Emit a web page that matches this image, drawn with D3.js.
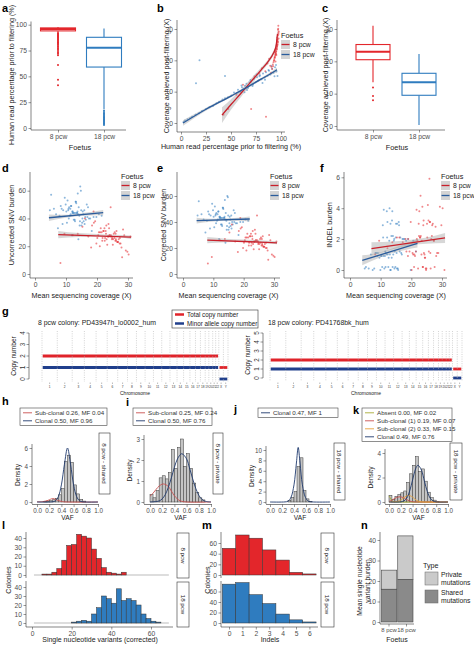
<!DOCTYPE html>
<html>
<head>
<meta charset="utf-8">
<script src="https://cdn.jsdelivr.net/npm/d3@7"></script>
<style>
  body { margin: 0; background: #fff; }
  svg text { font-family: "Liberation Sans", Arial, sans-serif; }
</style>
</head>
<body>
<script>
const groups = ["8 pcw", "18 pcw"];

// a - human read percentage prior to filtering
const readStats = [
  {lo: 92.6, q1: 94.0, med: 95.9, q3: 96.9, hi: 97.8},
  {lo: 18.5, q1: 59.0, med: 77.8, q3: 87.8, hi: 96.3}
];
const readOut8 = [92.0, 91.3, 90.6, 89.8, 89.1, 88.3, 87.6, 86.8, 85.9, 85.1, 84.2, 83.3, 82.5, 81.6, 80.6, 79.5, 78.4, 77.2, 75.9, 74.6, 73.2, 71.8, 70.5, 61.0, 46.8, 41.5];
const readOut18 = [17.0, 15.6, 14.3, 13.2, 12.1, 11.0, 10.1, 9.2, 8.3, 7.4, 6.5, 5.6, 4.7, 3.8, 3.0];

// c - coverage achieved post-filtering
const covStats = [
  {lo: 13.5, q1: 20.5, med: 23.0, q3: 25.2, hi: 31.0},
  {lo: 0.3, q1: 9.5, med: 13.5, q3: 16.3, hi: 22.3}
];
const covOut8 = [11.9, 9.3, 8.0];
const covOut18 = [];

// b - read percentage vs coverage
const b8x = [95.5, 96.2, 94.8, 97.0, 93.9, 96.8, 95.1, 97.3, 92.5, 96.0, 94.2, 97.5, 95.8, 93.2, 96.5, 91.8, 95.3, 97.1, 94.6, 96.9, 90.5, 95.9, 93.6, 97.4, 96.3, 89.2, 94.9, 96.7, 92.9, 95.6, 97.2, 88.1, 94.4, 96.1, 95.0, 93.4, 97.6, 91.2, 96.4, 94.0, 86.5, 95.4, 97.8, 92.1, 96.6, 84.3, 93.8, 95.7, 81.0, 96.0, 78.2, 94.5, 73.5, 90.0, 62.0, 55.4, 47.3, 42.5, 70.1, 85.0];
const b8y = [24.1, 27.3, 22.5, 29.8, 20.9, 26.0, 23.6, 31.0, 19.4, 25.2, 21.8, 28.4, 24.9, 20.1, 26.8, 18.7, 23.0, 27.9, 22.2, 25.6, 17.9, 24.5, 21.1, 28.9, 26.3, 18.3, 22.8, 25.0, 19.9, 23.8, 30.1, 20.5, 21.5, 24.3, 22.0, 20.6, 27.0, 17.2, 26.6, 23.2, 19.0, 21.7, 29.2, 18.1, 25.9, 16.5, 22.6, 24.7, 17.5, 23.5, 15.8, 19.6, 14.9, 16.0, 12.2, 9.0, 4.5, 2.6, 4.5, 2.0];
const b18x = [2.5, 4.0, 6.5, 9.0, 11.0, 14.5, 18.0, 21.0, 25.0, 28.5, 32.0, 35.5, 38.0, 41.5, 44.0, 47.0, 50.5, 53.0, 55.5, 57.0, 59.5, 61.0, 62.5, 64.0, 65.5, 67.0, 68.5, 70.0, 71.5, 73.0, 74.5, 76.0, 77.5, 79.0, 80.5, 82.0, 83.5, 85.0, 86.5, 88.0, 89.5, 91.0, 92.5, 94.0, 95.5, 96.5, 60.5, 66.0, 72.0, 78.5, 84.0, 90.5, 93.5, 95.0, 63.5, 69.5, 75.5, 81.5, 87.5, 18.5, 44.0, 15.0];
const b18y = [0.3, 0.8, 1.2, 1.5, 2.0, 2.6, 3.1, 3.8, 4.5, 5.0, 5.4, 6.3, 6.8, 7.5, 7.9, 8.2, 8.8, 9.7, 9.5, 10.6, 10.0, 11.4, 10.8, 11.9, 12.5, 11.2, 12.9, 13.2, 11.8, 14.1, 13.0, 14.6, 13.6, 15.2, 14.0, 15.8, 14.5, 16.2, 15.1, 16.7, 15.5, 17.3, 16.0, 17.8, 16.4, 15.0, 12.0, 10.5, 12.3, 14.9, 13.8, 18.2, 14.9, 18.5, 9.8, 13.7, 15.5, 12.8, 16.9, 20.0, 15.0, 12.7];
const bFit8 = [[41, 2.5], [50, 5.9], [60, 9.5], [70, 13.2], [80, 16.9], [88, 20.0], [92, 22.0], [95, 24.5], [96.5, 28.5]];
const bBand8 = [[41, 0.0, 5.0], [50, 4.2, 7.6], [60, 8.3, 10.7], [70, 12.2, 14.2], [80, 16.1, 17.7], [88, 19.3, 20.7], [92, 21.3, 22.7], [95, 23.5, 25.5], [96.5, 27.0, 30.0]];
const bFit18 = [[2, 0.0], [25, 4.4], [50, 8.6], [65, 11.2], [80, 14.0], [90, 15.8], [96, 17.0]];
const bBand18 = [[2, -0.9, 0.9], [25, 3.9, 4.9], [50, 8.2, 9.0], [65, 10.8, 11.6], [80, 13.6, 14.4], [90, 15.3, 16.3], [96, 16.3, 17.7]];

// d, e, f - per colony mean coverage, SNV and indel burden
const cov8 = [24.1, 22.5, 26.3, 19.8, 23.4, 27.9, 21.2, 25.6, 18.4, 24.8, 29.3, 22.9, 20.6, 26.8, 23.7, 17.2, 25.1, 28.4, 21.8, 24.5, 30.2, 19.4, 23.1, 26.0, 22.2, 27.3, 16.1, 24.3, 25.9, 20.9, 23.9, 28.8, 22.6, 18.9, 26.5, 21.5, 24.7, 27.0, 15.3, 23.3, 25.4, 29.8, 20.1, 22.0, 26.2, 24.0, 19.0, 27.6, 23.6, 21.0, 25.2, 13.8, 28.1, 22.4, 24.9, 26.7, 20.4, 23.0, 30.8, 18.1, 25.7, 21.7, 24.4, 27.4, 12.2, 22.8, 26.1, 9.5, 23.8, 8.2];
const cov18 = [12.3, 14.5, 10.8, 16.2, 13.1, 8.9, 15.4, 11.7, 17.8, 13.9, 9.6, 12.8, 15.9, 11.2, 14.1, 7.4, 13.5, 16.7, 10.3, 12.0, 18.9, 14.8, 6.1, 11.5, 15.0, 13.3, 9.1, 16.4, 12.6, 14.3, 5.2, 10.9, 17.1, 13.7, 11.9, 15.6, 8.3, 12.9, 14.9, 19.8, 10.5, 13.0, 16.0, 11.4, 7.9, 14.6, 12.2, 17.4, 9.9, 15.2, 13.6, 11.0, 20.6, 12.5, 4.8, 14.0, 16.9, 10.1, 13.2, 15.7, 8.6, 12.1, 21.5, 14.4, 11.6, 6.8, 13.8, 15.3, 10.7, 18.3];
const snvRaw8 = [28, 24, 31, 22, 27, 19, 33, 26, 35, 25, 17, 29, 30, 23, 36, 27, 21, 32, 26, 28, 14, 38, 25, 29, 31, 22, 40, 27, 24, 20, 33, 28, 26, 45, 23, 30, 27, 25, 34, 21, 29, 16, 26, 31, 24, 28, 37, 22, 27, 30, 25, 29, 12, 33, 26, 23, 28, 35, 27, 19, 30, 24, 48, 26, 28, 31, 25, 29, 27, 8];
const snvRaw18 = [44, 38, 47, 41, 52, 36, 45, 49, 40, 43, 55, 39, 46, 42, 48, 33, 44, 50, 37, 45, 41, 60, 47, 43, 35, 51, 46, 39, 44, 42, 57, 40, 48, 45, 28, 43, 49, 38, 46, 41, 53, 44, 36, 47, 42, 63, 45, 40, 50, 37, 44, 48, 43, 39, 46, 25, 41, 45, 52, 38, 47, 44, 42, 35, 49, 43, 58, 40, 46, 31];
const snvCor8 = [26, 22, 29, 20, 25, 18, 31, 24, 33, 23, 15, 27, 28, 21, 34, 25, 19, 30, 24, 26, 13, 36, 23, 27, 29, 20, 38, 25, 22, 18, 31, 26, 24, 43, 21, 28, 25, 23, 32, 19, 27, 14, 24, 29, 22, 26, 35, 20, 25, 28, 23, 27, 11, 31, 24, 21, 26, 33, 25, 17, 28, 22, 45, 24, 26, 29, 23, 13, 25, 8];
const snvCor18 = [43, 37, 46, 40, 51, 35, 44, 48, 39, 42, 54, 38, 45, 41, 47, 32, 43, 49, 36, 44, 40, 59, 46, 42, 34, 50, 45, 38, 43, 41, 56, 39, 47, 44, 27, 42, 48, 37, 45, 40, 52, 43, 35, 46, 41, 60, 44, 39, 49, 36, 43, 47, 42, 38, 45, 24, 40, 44, 51, 37, 46, 43, 41, 34, 48, 42, 57, 39, 45, 30];
const indel8 = [1.1, 2.2, 0.1, 3.1, 1.9, 2.8, 0.9, 3.2, 1.2, 0.0, 4.1, 2.1, 1.0, 2.9, 0.2, 1.8, 3.0, 1.1, 2.0, 0.8, 4.0, 1.2, 2.2, 3.1, 0.1, 1.9, 2.1, 1.0, 5.9, 0.2, 2.9, 1.1, 3.8, 0.9, 2.0, 1.2, 0.1, 3.0, 2.1, 1.0, 4.2, 2.9, 0.0, 1.9, 1.1, 3.2, 2.0, 0.2, 4.1, 1.0, 2.1, 1.8, 0.9, 3.0, 0.1, 2.2, 1.1, 4.8, 0.0, 2.0, 1.2, 3.9, 0.8, 1.9, 1.4, 2.1, 3.1, 1.9, 0.2, 1.0];
const indel18 = [1.0, 0.1, 2.1, 1.2, 0.0, 0.9, 3.0, 1.1, 2.0, 0.2, 0.8, 1.9, 3.1, 0.1, 1.0, 0.0, 2.2, 1.1, 0.9, 3.8, 2.0, 0.2, 0.1, 1.2, 3.0, 0.0, 1.1, 2.1, 0.8, 1.9, 0.2, 0.9, 2.0, 3.2, 1.0, 0.1, 1.1, 4.0, 2.1, 0.0, 0.2, 1.0, 2.9, 0.9, 0.1, 1.2, 3.1, 2.0, 0.0, 1.1, 0.8, 3.9, 1.9, 0.2, 0.1, 2.2, 1.0, 0.9, 3.0, 0.0, 1.1, 2.1, 1.2, 2.0, 0.2, 1.0, 3.8, 0.1, 2.9, 1.9];
const dFit8 = [[7.5, 28.4], [31, 26.5]], dBand8 = [[7.5, 25.8, 31.0], [14, 26.6, 29.5], [20, 27.0, 28.8], [25, 26.8, 28.2], [31, 25.3, 27.8]];
const dFit18 = [[4.5, 40.5], [22, 44.2]], dBand18 = [[4.5, 38.2, 42.8], [9, 40.2, 42.6], [13, 41.5, 43.3], [18, 42.2, 44.6], [22, 42.3, 46.1]];
const eFit8 = [[8, 26], [31, 24]], eBand8 = [[8, 23.6, 28.4], [14, 24.4, 27.2], [20, 24.7, 26.5], [25, 24.3, 25.9], [31, 22.8, 25.2]];
const eFit18 = [[4.5, 41], [22, 42.3]], eBand18 = [[4.5, 38.8, 43.2], [9, 40.1, 42.5], [13, 40.9, 42.7], [18, 41.0, 43.2], [22, 40.4, 44.2]];
const fFit8 = [[7, 1.38], [31, 2.08]], fBand8 = [[7, 0.95, 1.8], [14, 1.35, 1.85], [20, 1.6, 1.95], [25, 1.7, 2.1], [31, 1.75, 2.4]];
const fFit18 = [[4, 0.62], [22, 1.72]], fBand18 = [[4, 0.3, 0.95], [9, 0.75, 1.1], [13, 1.05, 1.35], [18, 1.3, 1.7], [22, 1.45, 2.0]];

// g - copy number
const chroms = ["1","2","3","4","5","6","7","8","9","10","11","12","13","14","15","16","17","18","19","20","21","22","X","Y"];
const chromLen = [249, 243, 198, 191, 181, 171, 159, 146, 141, 136, 135, 134, 115, 107, 103, 90, 81, 78, 59, 63, 48, 51, 75, 75];
const cnSegs8 = [{from: "1", to: "22", total: 2, minor: 1}, {from: "X", to: "Y", total: 1, minor: 0}];
const cnSegs18 = [{from: "1", to: "22", total: 2, minor: 1}, {from: "X", to: "Y", total: 1, minor: 0}];

// h-k - VAF densities (bins of 0.05 from 0)
const vafBinWidth = 0.05;
const hBars = [0, 0, 0.05, 0.1, 0.15, 0.25, 0.4, 0.8, 1.5, 4.5, 5.2, 4.4, 1.9, 0.9, 0.3, 0.1, 0, 0, 0, 0];
const iBars = [0.35, 0.2, 0.55, 1.15, 1.25, 1.1, 1.4, 2.5, 1.6, 2.6, 3.0, 1.7, 2.3, 1.6, 0.9, 0.45, 0.2, 0.1, 0, 0];
const jBars = [0, 0, 0, 0, 0, 0, 0.3, 0.9, 2.0, 6.8, 8.5, 2.2, 0.6, 0.1, 0, 0, 0, 0, 0, 0];
const kBars = [0.55, 0.2, 0.45, 0.6, 0.75, 0.9, 1.6, 2.3, 3.0, 3.7, 2.5, 2.7, 1.7, 0.8, 0.35, 0.15, 0.05, 0, 0, 0];
const hSub = [[0, 0.02], [0.1, 0.05], [0.18, 0.18], [0.26, 0.38], [0.34, 0.18], [0.42, 0.04], [0.5, 0], [1, 0]];
const hClon = [[0, 0], [0.25, 0.02], [0.3, 0.12], [0.35, 0.6], [0.4, 1.9], [0.45, 4.2], [0.5, 6.0], [0.55, 4.2], [0.6, 1.9], [0.65, 0.6], [0.7, 0.12], [0.75, 0.02], [1, 0]];
const iSub = [[0, 0.28], [0.05, 0.42], [0.1, 0.6], [0.15, 0.76], [0.22, 0.86], [0.3, 0.74], [0.35, 0.52], [0.4, 0.3], [0.45, 0.14], [0.5, 0.05], [0.6, 0], [1, 0]];
const iClon = [[0, 0], [0.15, 0.05], [0.2, 0.15], [0.25, 0.35], [0.3, 0.7], [0.35, 1.15], [0.4, 1.65], [0.45, 2.05], [0.52, 2.3], [0.6, 2.05], [0.65, 1.6], [0.7, 1.1], [0.75, 0.65], [0.8, 0.32], [0.85, 0.13], [0.9, 0.04], [1, 0]];
const jClon = [[0, 0], [0.25, 0.02], [0.3, 0.15], [0.35, 0.9], [0.4, 3.3], [0.44, 7.5], [0.47, 10.5], [0.5, 7.5], [0.54, 3.3], [0.59, 0.9], [0.64, 0.15], [0.7, 0.02], [1, 0]];
const kAbs = [[0, 0.5], [0.02, 0.35], [0.05, 0.1], [0.08, 0.02], [0.12, 0], [1, 0]];
const kSub1 = [[0, 0.05], [0.05, 0.15], [0.1, 0.3], [0.15, 0.4], [0.19, 0.42], [0.25, 0.35], [0.3, 0.2], [0.35, 0.08], [0.42, 0.01], [0.5, 0], [1, 0]];
const kSub2 = [[0, 0], [0.1, 0.01], [0.18, 0.1], [0.25, 0.35], [0.33, 0.55], [0.4, 0.4], [0.47, 0.12], [0.55, 0.02], [0.6, 0], [1, 0]];
const kClon = [[0, 0], [0.2, 0.01], [0.25, 0.08], [0.3, 0.3], [0.35, 0.9], [0.4, 1.8], [0.45, 2.7], [0.49, 3.0], [0.55, 2.6], [0.6, 1.7], [0.65, 0.85], [0.7, 0.3], [0.75, 0.08], [0.8, 0.01], [1, 0]];

// l - SNV histogram (colonies per bin)
const snvBinWidth = 2.5, snvBinStart = 5;
const snvHist8 = [1, 1, 3, 7, 16, 32, 33, 44, 42, 40, 28, 18, 8, 3, 2, 1, 3];
const snvHist18 = [0, 0, 0, 0, 0, 0, 1, 2, 3, 2, 10, 17, 30, 27, 22, 38, 25, 27, 25, 20, 10, 5, 2, 1];

// m - indel histogram
const indelVals = [0, 1, 2, 3, 4, 5, 6];
const indelHist8 = [50, 75, 69, 47, 28, 5, 2];
const indelHist18 = [74, 77, 54, 37, 17, 6, 2];

// n - mean SNV burden
const sharedMean = [16.0, 20.8];
const privateMean = [9.3, 21.2];

// ---------------------------------------------------------------
const svg = d3.select("body").append("svg").attr("width", 474).attr("height", 645);
const RED = "#e3262b", BLUE = "#2f7cbf";
const RED_LINE = "#c8202b", BLUE_LINE = "#2a5c9c";
const NAVY = "#1f3a6e";

function T(t, x, y, o = {}) {
  const e = svg.append("text").attr("x", x).attr("y", y).text(t)
    .attr("font-size", o.size || 7).attr("fill", o.fill || "#222")
    .attr("text-anchor", o.anchor || "start");
  if (o.bold) e.attr("font-weight", "bold");
  if (o.rot) e.attr("transform", `rotate(${o.rot},${x},${y})`);
  return e;
}
function styleAxis(g, size) {
  g.select(".domain").remove();
  g.selectAll(".tick line").attr("stroke", "#333").attr("stroke-width", 0.5);
  g.selectAll(".tick text").attr("font-size", size || 6.7).attr("fill", "#4d4d4d");
}
function axisL(x, scale, ticks, yA, yB, fmt, size) {
  const g = svg.append("g").attr("transform", `translate(${x},0)`)
    .call(d3.axisLeft(scale).tickValues(ticks).tickSize(2.5).tickPadding(1.5).tickFormat(fmt || String));
  styleAxis(g, size);
  g.append("line").attr("y1", yA).attr("y2", yB).attr("stroke", "#333").attr("stroke-width", 0.6);
  return g;
}
function axisB(y, scale, ticks, xA, xB, fmt, size) {
  const g = svg.append("g").attr("transform", `translate(0,${y})`)
    .call(d3.axisBottom(scale).tickValues(ticks).tickSize(2.5).tickPadding(1.5).tickFormat(fmt || String));
  styleAxis(g, size);
  g.append("line").attr("x1", xA).attr("x2", xB).attr("stroke", "#333").attr("stroke-width", 0.6);
  return g;
}
function panelLabel(t, x, y) { T(t, x, y, {size: 11, bold: true, fill: "#000"}); }

function boxes(sx, sy, stats, outs, w) {
  stats.forEach((s, i) => {
    const c = i ? BLUE : RED, cx = sx(groups[i]);
    const g = svg.append("g").attr("stroke", c).attr("stroke-width", 1.1);
    g.append("line").attr("x1", cx).attr("x2", cx).attr("y1", sy(s.hi)).attr("y2", sy(s.q3));
    g.append("line").attr("x1", cx).attr("x2", cx).attr("y1", sy(s.q1)).attr("y2", sy(s.lo));
    g.append("rect").attr("x", cx - w / 2).attr("width", w).attr("y", sy(s.q3))
      .attr("height", sy(s.q1) - sy(s.q3)).attr("fill", "#fff");
    g.append("line").attr("x1", cx - w / 2).attr("x2", cx + w / 2).attr("y1", sy(s.med)).attr("y2", sy(s.med)).attr("stroke-width", 2);
    svg.append("g").selectAll("circle").data(outs[i]).join("circle")
      .attr("cx", cx).attr("cy", d => sy(d)).attr("r", 1).attr("fill", c);
  });
}
function dots(xs, ys, sx, sy, color) {
  svg.append("g").selectAll("circle").data(d3.zip(xs, ys)).join("circle")
    .attr("cx", d => sx(d[0])).attr("cy", d => sy(d[1])).attr("r", 1)
    .attr("fill", color).attr("fill-opacity", 0.55);
}
function ribbon(band, sx, sy) {
  svg.append("path").datum(band)
    .attr("d", d3.area().x(d => sx(d[0])).y0(d => sy(d[1])).y1(d => sy(d[2])).curve(d3.curveMonotoneX))
    .attr("fill", "#9a9a9a").attr("fill-opacity", 0.4);
}
function fitLine(fit, sx, sy, color) {
  svg.append("path").datum(fit)
    .attr("d", d3.line().x(d => sx(d[0])).y(d => sy(d[1])).curve(d3.curveMonotoneX))
    .attr("fill", "none").attr("stroke", color).attr("stroke-width", 1.3);
}
function smoothLegend(x, y) {
  T("Foetus", x, y + 2.5, {size: 7.3});
  groups.forEach((g, i) => {
    const cy = y + 9.5 + i * 10;
    svg.append("rect").attr("x", x).attr("y", cy - 4.5).attr("width", 9).attr("height", 9).attr("fill", "#d4d4d4");
    svg.append("line").attr("x1", x + 0.5).attr("x2", x + 8.5).attr("y1", cy).attr("y2", cy)
      .attr("stroke", i ? BLUE_LINE : RED_LINE).attr("stroke-width", 1.3);
    T(g, x + 12, cy + 2.4, {size: 6.8});
  });
}

// ---- a ----
panelLabel("a", 2, 12);
{
  const sy = d3.scaleLinear().domain([0, 100]).range([128, 24.7]);
  const sx = d3.scalePoint().domain(groups).range([58, 104]);
  axisL(31, sy, [0, 25, 50, 75, 100], 21.5, 130);
  axisB(130, sx, groups, 31, 126);
  boxes(sx, sy, readStats, [readOut8, readOut18], 35);
  T("Human read percentage prior to filtering (%)", 14, 75, {anchor: "middle", rot: -90, size: 7.2});
  T("Foetus", 80, 150, {anchor: "middle", size: 7.3});
}
// ---- b ----
panelLabel("b", 157, 12);
{
  const sx = d3.scaleLinear().domain([0, 100]).range([181, 281]);
  const sy = d3.scaleLinear().domain([0, 30]).range([123, 29]);
  axisL(177, sy, [0, 10, 20, 30], 20, 132);
  axisB(132, sx, [0, 25, 50, 75, 100], 177, 285);
  dots(b18x, b18y, sx, sy, BLUE);
  dots(b8x, b8y, sx, sy, RED);
  ribbon(bBand8, sx, sy); ribbon(bBand18, sx, sy);
  fitLine(bFit8, sx, sy, RED_LINE); fitLine(bFit18, sx, sy, BLUE_LINE);
  smoothLegend(281, 35);
  T("Coverage achieved post-filtering (X)", 169, 76, {anchor: "middle", rot: -90, size: 7.2});
  T("Human read percentage prior to filtering (%)", 231, 149, {anchor: "middle", size: 7.2});
}
// ---- c ----
panelLabel("c", 322, 12);
{
  const sy = d3.scaleLinear().domain([0, 30]).range([126, 29]);
  const sx = d3.scalePoint().domain(groups).range([373, 419]);
  axisL(337, sy, [0, 10, 20, 30], 20, 130);
  axisB(130, sx, groups, 337, 445);
  boxes(sx, sy, covStats, [covOut8, covOut18], 34);
  T("Coverage achieved post-filtering (X)", 328, 75, {anchor: "middle", rot: -90, size: 7.2});
  T("Foetus", 397, 150, {anchor: "middle", size: 7.3});
}
// ---- d, e, f ----
function burdenPanel(o) {
  const sx = d3.scaleLinear().domain([0, 30]).range(o.xr);
  const sy = d3.scaleLinear().domain([0, o.ymax]).range(o.yr);
  axisL(o.ax, sy, o.ticks, 172, 278);
  axisB(278, sx, [0, 10, 20, 30], o.ax, o.ax + 103);
  dots(cov18, o.v18, sx, sy, BLUE);
  dots(cov8, o.v8, sx, sy, RED);
  ribbon(o.band8, sx, sy); ribbon(o.band18, sx, sy);
  fitLine(o.fit8, sx, sy, RED_LINE); fitLine(o.fit18, sx, sy, BLUE_LINE);
  smoothLegend(o.leg, 176);
  T(o.ylab, o.ylx, 225, {anchor: "middle", rot: -90, size: 7.2});
  T("Mean sequencing coverage (X)", (o.xr[0] + o.xr[1]) / 2, 298, {anchor: "middle", size: 7.2});
}
panelLabel("d", 2, 172);
burdenPanel({xr: [35, 128], yr: [274, 190.7], ymax: 60, ax: 30, ticks: [0, 20, 40, 60], v8: snvRaw8, v18: snvRaw18,
  fit8: dFit8, band8: dBand8, fit18: dFit18, band18: dBand18, leg: 121, ylab: "Uncorrected SNV burden", ylx: 14});
panelLabel("e", 157, 172);
burdenPanel({xr: [183, 274], yr: [274, 196], ymax: 60, ax: 177, ticks: [0, 20, 40, 60], v8: snvCor8, v18: snvCor18,
  fit8: eFit8, band8: eBand8, fit18: eFit18, band18: eBand18, leg: 270, ylab: "Corrected SNV burden", ylx: 166});
panelLabel("f", 320, 172);
burdenPanel({xr: [350, 442], yr: [270, 177.3], ymax: 6, ax: 344, ticks: [0, 2, 4, 6], v8: indel8, v18: indel18,
  fit8: fFit8, band8: fBand8, fit18: fFit18, band18: fBand18, leg: 441, ylab: "INDEL burden", ylx: 332});

// ---- g ----
panelLabel("g", 2, 315);
function cnPanel(o) {
  const starts = [0].concat(Array.from(d3.cumsum(chromLen)));
  const sx = d3.scaleLinear().domain([0, starts[starts.length - 1]]).range([o.x0, o.x1]);
  const sy = d3.scaleLinear().domain([0, o.max]).range([o.y0, o.yTop]);
  o.segs.forEach(s => {
    const a = sx(starts[chroms.indexOf(s.from)]) + 0.7, b = sx(starts[chroms.indexOf(s.to) + 1]) - 0.7;
    svg.append("line").attr("x1", a).attr("x2", b).attr("y1", sy(s.total)).attr("y2", sy(s.total))
      .attr("stroke", "#e0232a").attr("stroke-width", 2.8);
    svg.append("line").attr("x1", a).attr("x2", b).attr("y1", sy(s.minor)).attr("y2", sy(s.minor))
      .attr("stroke", "#203f8c").attr("stroke-width", 2.8);
  });
  svg.append("g").selectAll("line").data(starts).join("line")
    .attr("x1", d => sx(d)).attr("x2", d => sx(d)).attr("y1", sy(o.max) - 2).attr("y2", o.y0 + 3)
    .attr("stroke", "#b5b5b5").attr("stroke-width", 0.6).attr("stroke-dasharray", "1,1.3");
  const ticks = d3.range(0, o.max + 1);
  svg.append("line").attr("x1", o.ax).attr("x2", o.ax).attr("y1", sy(0)).attr("y2", sy(o.max)).attr("stroke", "#333").attr("stroke-width", 0.6);
  ticks.forEach(t => {
    svg.append("line").attr("x1", o.ax - 2.5).attr("x2", o.ax).attr("y1", sy(t)).attr("y2", sy(t)).attr("stroke", "#333").attr("stroke-width", 0.5);
    T(String(t), o.ax - 4.5, sy(t), {anchor: "middle", rot: -90, size: 6.3, fill: "#333"});
  });
  chroms.forEach((c, i) => {
    const cx = sx((starts[i] + starts[i + 1]) / 2);
    svg.append("line").attr("x1", cx).attr("x2", cx).attr("y1", 382.5).attr("y2", 384).attr("stroke", "#555").attr("stroke-width", 0.4);
    T(c, cx, 388, {anchor: "middle", size: 3.2, fill: "#333"});
  });
  T(o.title, o.tx, 325, {size: 6.9});
  T("Copy number", o.ax - 13, o.y0 - 23, {anchor: "middle", rot: -90, size: 6.6});
  T("Chromosome", (o.x0 + o.x1) / 2, 395, {anchor: "middle", size: 5});
}
cnPanel({x0: 42, x1: 228, y0: 379, yTop: 333, max: 4, segs: cnSegs8, ax: 29, tx: 38, title: "8 pcw colony: PD43947h_lo0002_hum"});
cnPanel({x0: 270, x1: 462, y0: 378, yTop: 333, max: 5, segs: cnSegs18, ax: 263, tx: 268, title: "18 pcw colony: PD41768bk_hum"});
svg.append("rect").attr("x", 172).attr("y", 310).attr("width", 86).attr("height", 18).attr("fill", "#fff").attr("stroke", "#333").attr("stroke-width", 0.6);
[["Total copy number", "#e0232a"], ["Minor allele copy number", "#203f8c"]].forEach((d, i) => {
  const cy = 314.5 + i * 9;
  svg.append("line").attr("x1", 175).attr("x2", 184).attr("y1", cy).attr("y2", cy).attr("stroke", d[1]).attr("stroke-width", 2.5);
  T(d[0], 187, cy + 2.3, {size: 6.3});
});

// ---- h-k ----
function lineLegend(x, y, w, items) {
  svg.append("rect").attr("x", x).attr("y", y).attr("width", w).attr("height", items.length * 8 + 1.5)
    .attr("fill", "#fff").attr("stroke", "#444").attr("stroke-width", 0.6);
  items.forEach((it, i) => {
    const cy = y + 4.8 + i * 8;
    svg.append("line").attr("x1", x + 3).attr("x2", x + 12).attr("y1", cy).attr("y2", cy).attr("stroke", it[1]).attr("stroke-width", 0.9);
    T(it[0], x + 15, cy + 2.2, {size: 6.2, fill: "#333"});
  });
}
function strip(x, y, w, h, label) {
  svg.append("rect").attr("x", x).attr("y", y).attr("width", w).attr("height", h)
    .attr("fill", "#fff").attr("stroke", "#333").attr("stroke-width", 0.6);
  T(label, x + w / 2, y + h / 2, {anchor: "middle", rot: 90, size: 6.2}).attr("dy", "0.35em");
}
function densPanel(o) {
  const sx = d3.scaleLinear().domain([0, 1]).range([o.x0, o.x1]);
  const sy = d3.scaleLinear().domain([0, o.ymax]).range([o.y0, o.yTop]);
  svg.append("g").selectAll("rect").data(o.bars).join("rect")
    .attr("x", (d, i) => sx(i * vafBinWidth)).attr("width", sx(vafBinWidth) - sx(0))
    .attr("y", d => sy(d)).attr("height", d => sy(0) - sy(d))
    .attr("fill", "#c4c4c4").attr("stroke", "#3a3a3a").attr("stroke-width", 0.5);
  o.curves.forEach(c => svg.append("path").datum(c[0])
    .attr("d", d3.line().x(d => sx(d[0])).y(d => sy(d[1])).curve(d3.curveCatmullRom))
    .attr("fill", "none").attr("stroke", c[1]).attr("stroke-width", 0.9));
  axisL(o.ax, sy, o.ticks, o.yTop - 4, o.y0 + 2, String, 6.3);
  axisB(504.5, sx, [0, 0.2, 0.4, 0.6, 0.8, 1], o.ax, o.x1 + 1, d3.format(".1f"), 6.3);
  T("Density", o.ax - 12, (o.y0 + o.yTop) / 2, {anchor: "middle", rot: -90, size: 6.6});
  T("VAF", (o.x0 + o.x1) / 2, 519.5, {anchor: "middle", size: 6.6});
  strip(o.sx, o.sy, o.sw, o.sh, o.strip);
  lineLegend(o.lx, 408, o.lw, o.legend);
}
const SUBC = "#c9504f", ORANGE = "#e8a13a", OLIVE = "#a9ad34";
panelLabel("h", 2, 405);
densPanel({x0: 37, x1: 98, y0: 502, yTop: 448, ymax: 6, ticks: [0, 2, 4, 6], ax: 32, bars: hBars,
  curves: [[hSub, SUBC], [hClon, NAVY]], sx: 99, sy: 433, sw: 11, sh: 61, strip: "8 pcw - shared",
  lx: 20, lw: 87, legend: [["Sub-clonal 0.26, MF 0.04", SUBC], ["Clonal 0.50, MF 0.96", NAVY]]});
panelLabel("i", 126, 406);
densPanel({x0: 150, x1: 211, y0: 502, yTop: 439, ymax: 3, ticks: [0, 1, 2, 3], ax: 144, bars: iBars,
  curves: [[iSub, SUBC], [iClon, NAVY]], sx: 213, sy: 433, sw: 10, sh: 61, strip: "8 pcw - private",
  lx: 133, lw: 79, legend: [["Sub-clonal 0.25, MF 0.24", SUBC], ["Clonal 0.50, MF 0.76", NAVY]]});
panelLabel("j", 234, 413);
densPanel({x0: 270, x1: 330, y0: 502, yTop: 450, ymax: 10, ticks: [0, 2, 4, 6, 8, 10], ax: 266, bars: jBars,
  curves: [[jClon, NAVY]], sx: 334, sy: 443, sw: 11, sh: 57, strip: "18 pcw - shared",
  lx: 258, lw: 80, legend: [["Clonal 0.47, MF 1", NAVY]]});
panelLabel("k", 353, 414);
densPanel({x0: 389, x1: 448, y0: 502, yTop: 453, ymax: 4, ticks: [0, 2, 4], ax: 385, bars: kBars,
  curves: [[kAbs, OLIVE], [kSub1, SUBC], [kSub2, ORANGE], [kClon, NAVY]], sx: 450, sy: 443, sw: 12, sh: 57, strip: "18 pcw - private",
  lx: 362, lw: 90, legend: [["Absent 0.00, MF 0.02", OLIVE], ["Sub-clonal (1) 0.19, MF 0.07", SUBC], ["Sub-clonal (2) 0.33, MF 0.15", ORANGE], ["Clonal 0.49, MF 0.76", NAVY]]});

// ---- l ----
panelLabel("l", 2, 529);
{
  const sx = d3.scaleLinear().domain([0, 60]).range([32, 151]);
  const facets = [
    {counts: snvHist8, y0: 575, y40: 538, top: 532, bot: 578, col: RED, lab: "8 pcw"},
    {counts: snvHist18, y0: 623, y40: 587, top: 581, bot: 627, col: BLUE, lab: "18 pcw"}
  ];
  facets.forEach(f => {
    const sy = d3.scaleLinear().domain([0, 40]).range([f.y0, f.y40]);
    svg.append("line").attr("x1", sx(1)).attr("x2", sx(69)).attr("y1", f.y0).attr("y2", f.y0).attr("stroke", "#aaa").attr("stroke-width", 0.8);
    svg.append("g").selectAll("rect").data(f.counts).join("rect")
      .attr("x", (d, i) => sx(snvBinStart + i * snvBinWidth)).attr("width", sx(snvBinWidth) - sx(0))
      .attr("y", d => sy(d)).attr("height", d => sy(0) - sy(d))
      .attr("fill", f.col).attr("stroke", "#333").attr("stroke-width", 0.5);
    axisL(26, sy, [0, 10, 20, 30, 40], f.top, f.bot);
    strip(177, f.top + 1, 12, f.bot - f.top - 1, f.lab);
  });
  axisB(627, sx, [0, 20, 40, 60], 26, 173);
  T("Colonies", 11, 580, {anchor: "middle", rot: -90, size: 7});
  T("Single nucleotide variants (corrected)", 100, 642, {anchor: "middle", size: 7});
}
// ---- m ----
panelLabel("m", 202, 529);
{
  const sx = d3.scaleLinear().domain([0, 6]).range([229, 309.4]);
  const facets = [
    {counts: indelHist8, y0: 575, y60: 543, top: 532, bot: 578, col: RED, lab: "8 pcw"},
    {counts: indelHist18, y0: 623, y60: 591.5, top: 581, bot: 627, col: BLUE, lab: "18 pcw"}
  ];
  facets.forEach(f => {
    const sy = d3.scaleLinear().domain([0, 60]).range([f.y0, f.y60]);
    svg.append("g").selectAll("rect").data(f.counts).join("rect")
      .attr("x", (d, i) => sx(indelVals[i] - 0.5)).attr("width", sx(1) - sx(0))
      .attr("y", d => sy(d)).attr("height", d => sy(0) - sy(d))
      .attr("fill", f.col).attr("stroke", "#333").attr("stroke-width", 0.5);
    axisL(221, sy, [0, 20, 40, 60], f.top, f.bot);
    strip(321, f.top + 1, 13, f.bot - f.top - 1, f.lab);
  });
  axisB(627, sx, indelVals, 221, 318);
  T("Colonies", 210, 580, {anchor: "middle", rot: -90, size: 7});
  T("Indels", 270, 642, {anchor: "middle", size: 7});
}
// ---- n ----
panelLabel("n", 361, 529);
{
  const sx = d3.scaleBand().domain(groups).range([381.5, 413]).paddingInner(0.06);
  const sy = d3.scaleLinear().domain([0, 40]).range([622, 540]);
  groups.forEach((g, i) => {
    svg.append("rect").attr("x", sx(g)).attr("width", sx.bandwidth()).attr("y", sy(sharedMean[i]))
      .attr("height", sy(0) - sy(sharedMean[i])).attr("fill", "#8a8a8a").attr("stroke", "#444").attr("stroke-width", 0.6);
    svg.append("rect").attr("x", sx(g)).attr("width", sx.bandwidth()).attr("y", sy(sharedMean[i] + privateMean[i]))
      .attr("height", sy(sharedMean[i]) - sy(sharedMean[i] + privateMean[i])).attr("fill", "#cacaca").attr("stroke", "#444").attr("stroke-width", 0.6);
  });
  axisL(380, sy, [0, 10, 20, 30, 40], 532, 624);
  const xp = d3.scalePoint().domain(groups).range([388.5, 406]);
  axisB(624, xp, groups, 380, 414, String, 5.9);
  T("Mean single nucleotide", 362, 581, {anchor: "middle", rot: -90, size: 6.8});
  T("variant burden", 369.5, 581, {anchor: "middle", rot: -90, size: 6.8});
  T("Foetus", 397, 642, {anchor: "middle", size: 7});
  T("Type", 423, 568, {size: 7.2});
  [["#cacaca", "Private", 572], ["#8a8a8a", "Shared", 590]].forEach(d => {
    svg.append("rect").attr("x", 425).attr("y", d[2]).attr("width", 13).attr("height", 13).attr("fill", d[0]).attr("stroke", "#666").attr("stroke-width", 0.5);
    T(d[1], 441, d[2] + 5, {size: 6.8});
    T("mutations", 441, d[2] + 12.5, {size: 6.8});
  });
}
</script>
</body>
</html>
